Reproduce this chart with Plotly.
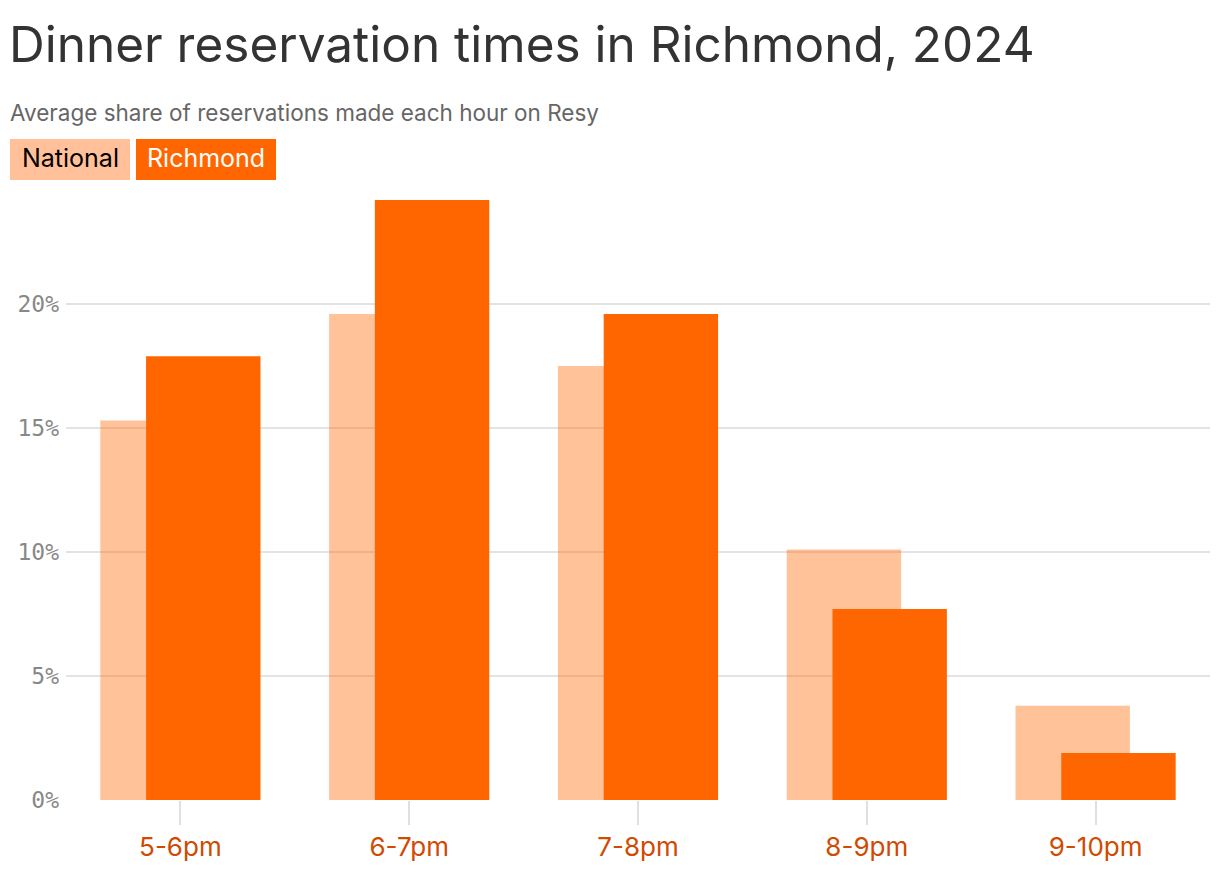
import plotly.graph_objects as go

categories = ["5-6pm", "6-7pm", "7-8pm", "8-9pm", "9-10pm"]
national = [15.3, 19.6, 17.5, 10.1, 3.8]
richmond = [17.9, 24.2, 19.6, 7.7, 1.9]
y_ticks = [0, 5, 10, 15, 20]
y_tick_labels = ["0%", "5%", "10%", "15%", "20%"]
series_names = ["National", "Richmond"]

W, H = 1220, 876
L, R, T, B = 66, 10, 190, 76
PW, PH = W - L - R, H - T - B

def px(x):
    return (x - L) / PW

def py(y):
    return (H - B - y) / PH

NAT_COLOR = "rgba(255,102,0,0.4)"
RIC_COLOR = "#ff6600"

fig = go.Figure()
fig.add_trace(go.Bar(x=categories, y=national, name=series_names[0],
                     marker=dict(color=NAT_COLOR, line=dict(width=0)),
                     width=0.5, offset=-0.35))
fig.add_trace(go.Bar(x=categories, y=richmond, name=series_names[1],
                     marker=dict(color=RIC_COLOR, line=dict(width=0)),
                     width=0.5, offset=-0.15))

annotations = [
    dict(text="Dinner reservation times in Richmond, 2024", x=px(7), y=py(44),
         xref="paper", yref="paper", xanchor="left", yanchor="middle", showarrow=False,
         font=dict(family="Inter", size=49.5, color="#333333")),
    dict(text="Average share of reservations made each hour on Resy", x=px(8), y=py(112),
         xref="paper", yref="paper", xanchor="left", yanchor="middle", showarrow=False,
         font=dict(family="Inter", size=22.5, color="#666666")),
]
shapes = []
boxes = [(10, 130, "#ffc09a", "#000000"), (136, 276, RIC_COLOR, "#ffffff")]
for name, (x0, x1, bg, fg) in zip(series_names, boxes):
    shapes.append(dict(type="rect", xref="paper", yref="paper", x0=px(x0), x1=px(x1),
                       y0=py(180), y1=py(139), fillcolor=bg, line=dict(width=0), layer="above"))
    annotations.append(dict(text=name, x=px((x0 + x1) / 2), y=py(158), xref="paper", yref="paper",
                            xanchor="center", yanchor="middle", showarrow=False,
                            font=dict(family="Inter", size=25, color=fg)))

fig.update_layout(
    width=W, height=H,
    margin=dict(l=L, r=R, t=T, b=B, pad=0),
    paper_bgcolor="white", plot_bgcolor="white",
    barmode="overlay", showlegend=False,
    annotations=annotations, shapes=shapes,
    xaxis=dict(type="category", range=[-0.5, 4.5], showgrid=False, zeroline=False,
               showline=False, ticks="outside", ticklen=24, tickwidth=2, tickcolor="#e0e0e0",
               tickfont=dict(family="Inter", size=26, color="#d04a02"), fixedrange=True),
    yaxis=dict(range=[0, 24.6], tickvals=y_ticks, ticktext=y_tick_labels,
               showgrid=True, gridcolor="#e3e3e3", gridwidth=2, zeroline=False,
               showline=False, ticks="", ticklabelstandoff=6,
               tickfont=dict(family="DejaVu Sans Mono", size=23, color="#888888"), fixedrange=True),
)

fig.write_html("out.html", config={"displayModeBar": False})
